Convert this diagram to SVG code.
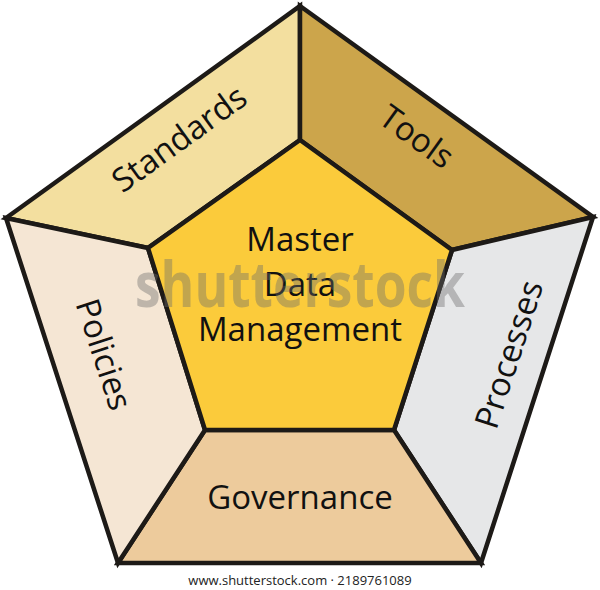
<svg xmlns="http://www.w3.org/2000/svg" width="600" height="590" viewBox="0 0 600 590">
<style>
.seg{stroke:#1d1a17;stroke-width:4.5;stroke-linejoin:miter}
.lbl{font-family:"Open Sans","Liberation Sans",sans-serif;font-size:33px;fill:#111;text-anchor:middle}
.wm{font-family:"Open Sans","Liberation Sans",sans-serif;font-weight:bold;font-size:62px;fill:#6b6b6b;fill-opacity:0.4;text-anchor:middle}
.cr{font-family:"Open Sans","Liberation Sans",sans-serif;font-size:13px;fill:#222;text-anchor:middle}
</style>
<rect width="600" height="590" fill="#fff"/>
<g id="standards"><polygon class="seg" fill="#F3DF9F" points="300,6 300,140 148,248 6,218"/><text class="lbl" transform="translate(186,148) rotate(-35.8)">Standards</text></g>
<g id="tools"><polygon class="seg" fill="#CCA54B" points="300,6 593,217 452,250 300,140"/><text class="lbl" transform="translate(410,146) rotate(35.8)">Tools</text></g>
<g id="processes"><polygon class="seg" fill="#E6E7E8" points="593,217 481,563 394,430 452,250"/><text class="lbl" transform="translate(520,358) rotate(-72)">Processes</text></g>
<g id="governance"><polygon class="seg" fill="#EDCB9C" points="481,563 118,563 205,430 394,430"/><text class="lbl" x="300" y="509">Governance</text></g>
<g id="policies"><polygon class="seg" fill="#F5E6D4" points="118,563 6,218 148,248 205,430"/><text class="lbl" transform="translate(93,358) rotate(72)">Policies</text></g>
<g id="center"><polygon class="seg" fill="#FBCB3B" points="300,140 452,250 394,430 205,430 148,248"/>
<text class="lbl" x="300" y="251">Master</text><text class="lbl" x="300" y="296">Data</text><text class="lbl" x="300" y="341">Management</text></g>
<g id="connectors"/>
<text class="wm" x="300" y="307" textLength="330" lengthAdjust="spacingAndGlyphs">shutterstock</text>
<text class="cr" x="300" y="585">www.shutterstock.com · 2189761089</text>
</svg>
